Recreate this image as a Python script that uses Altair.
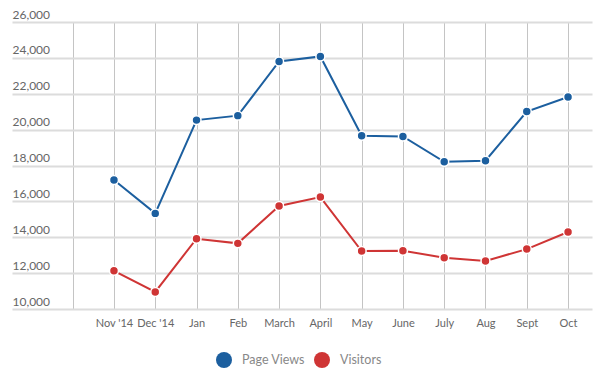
import altair as alt
import pandas as pd

months = ["Nov '14", "Dec '14", "Jan", "Feb", "March", "April", "May", "June", "July", "Aug", "Sept", "Oct"]
page_views = [17190, 15330, 20530, 20780, 23800, 24080, 19660, 19620, 18210, 18270, 21010, 21820]
visitors = [12130, 10950, 13920, 13660, 15740, 16240, 13230, 13250, 12860, 12680, 13340, 14290]
series = ["Page Views", "Visitors"]
colors = ["#1c5f9f", "#cf3535"]
y_ticks = [10000, 12000, 14000, 16000, 18000, 20000, 22000, 24000, 26000]

rows = []
for i, m in enumerate(months):
    rows.append({"idx": i, "month": m, "series": series[0], "value": page_views[i]})
    rows.append({"idx": i, "month": m, "series": series[1], "value": visitors[i]})
df = pd.DataFrame(rows)

label_arr = "[" + ",".join("'" + m.replace("'", "\\'") + "'" for m in months) + "]"
label_expr = f"datum.value >= 0 ? {label_arr}[datum.value] : ''"

FONT = "Lato, Roboto, sans-serif"

x = alt.X(
    "idx:Q",
    scale=alt.Scale(domain=[-2.47, 11.58], nice=False, zero=False),
    axis=alt.Axis(
        title=None,
        values=list(range(-1, len(months))),
        labelExpr=label_expr,
        grid=True,
        gridColor="#c4c4c4",
        gridWidth=1,
        ticks=False,
        domain=False,
        labelPadding=8,
        labelFontSize=11,
        labelColor="#666666",
        labelFont=FONT,
        labelFlush=False,
        labelOverlap=False,
    ),
)
y = alt.Y(
    "value:Q",
    scale=alt.Scale(domain=[10000, 26000], nice=False, zero=False),
    axis=alt.Axis(
        title=None,
        values=y_ticks,
        format=",d",
        grid=True,
        gridColor="#dcdcdc",
        gridWidth=2,
        ticks=False,
        domain=False,
        labelAlign="left",
        labelBaseline="bottom",
        labelPadding=0,
        labelOffset=-1,
        labelFontSize=12,
        labelColor="#666666",
        labelFont=FONT,
        labelFlush=False,
        labelOverlap=False,
    ),
)
legend = alt.Legend(
    title=None,
    orient="none",
    legendX=204,
    legendY=330,
    direction="horizontal",
    symbolType="circle",
    symbolSize=256,
    symbolStrokeWidth=0,
    labelFontSize=12.5,
    labelColor="#888888",
    labelFont=FONT,
    labelOffset=10,
    columnPadding=9,
    padding=0,
)
color = alt.Color("series:N", scale=alt.Scale(domain=series, range=colors), legend=legend)

base = alt.Chart(df)
lines = base.mark_line(strokeWidth=2).encode(x=x, y=y, color=color)
points = base.mark_point(filled=True, size=80, stroke="white", strokeWidth=1.5, opacity=1).encode(
    x=x, y=y, color=color
)

chart = (
    alt.layer(lines, points)
    .properties(
        width=580,
        height=287,
        autosize=alt.AutoSizeParams(type="none"),
        padding={"left": 4, "top": 14, "right": 7, "bottom": 61},
    )
    .configure_view(stroke=None)
)

chart.save("out.html", embed_options={"renderer": "svg", "actions": False})
